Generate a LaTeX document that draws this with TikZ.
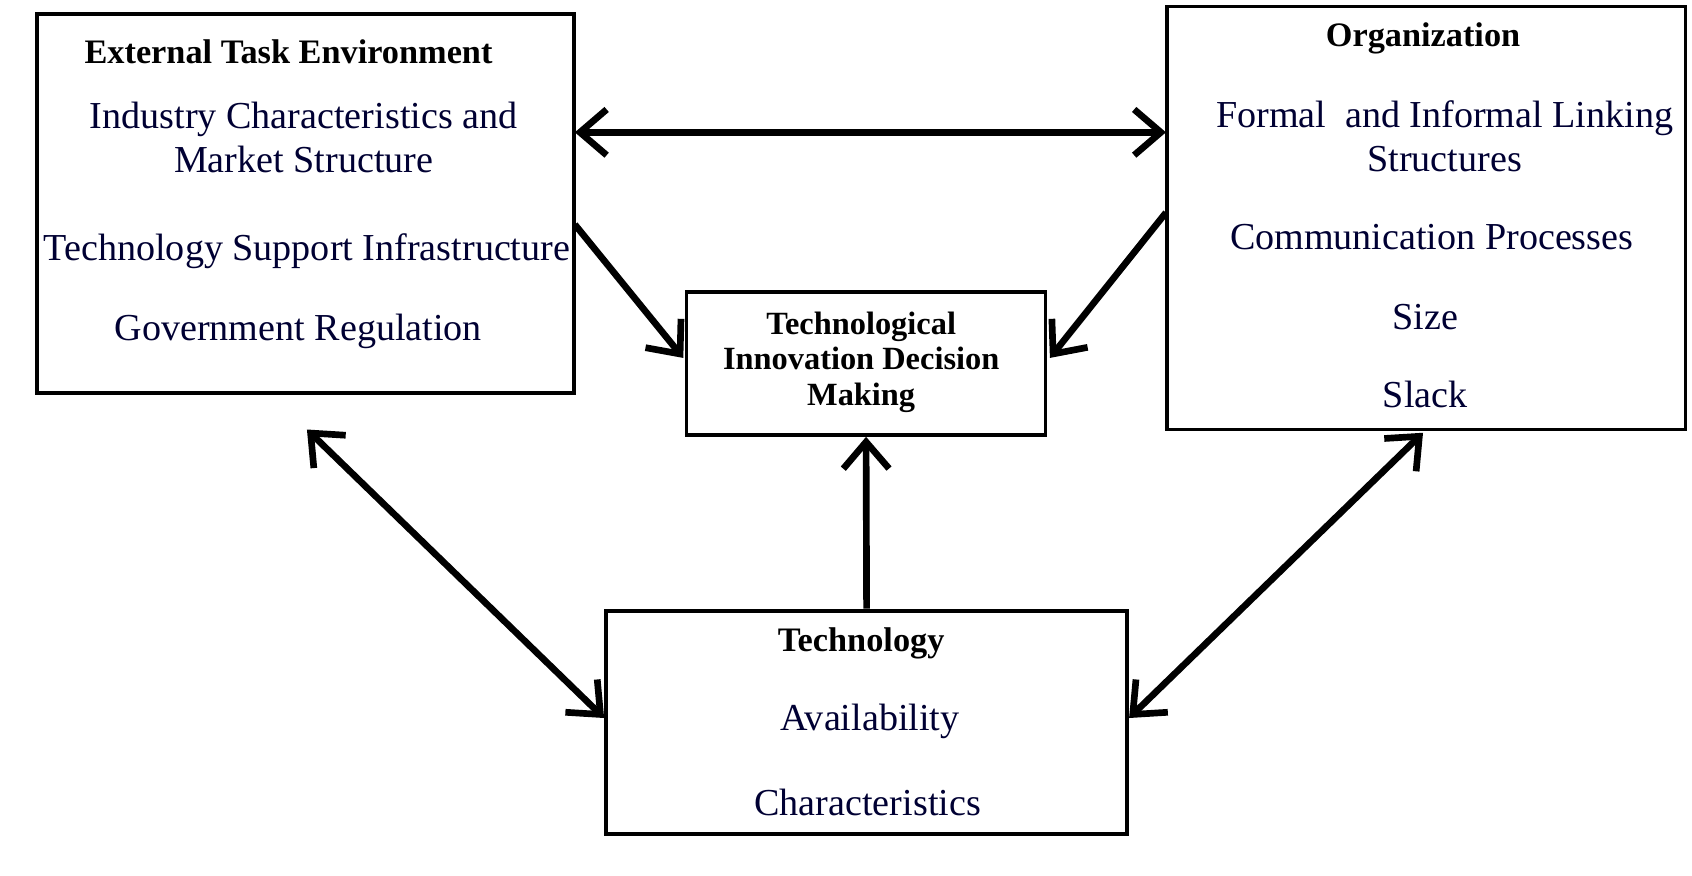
\documentclass[tikz,border=0pt]{standalone}
\usepackage{fontspec}
\setmainfont{Liberation Serif}
\usetikzlibrary{arrows.meta}
\begin{document}
\begin{tikzpicture}[x=0.02cm,y=-0.02cm,
  box/.style={draw,line width=2pt},
  txt/.style={font=\fontsize{20}{23}\selectfont,align=center,text=black!80!blue},
  ttl/.style={font=\fontsize{18}{20}\selectfont\bfseries,align=center},
  arr/.style={line width=3.5pt,-{Straight Barb[length=14pt,width=24pt,line width=3.5pt]}},
  darr/.style={line width=3.5pt,{Straight Barb[length=14pt,width=24pt,line width=3.5pt]}-{Straight Barb[length=14pt,width=24pt,line width=3.5pt]}}]
\useasboundingbox (0,0) rectangle (1560,807);
\fill[white] (0,0) rectangle (1560,807);
\node[box,minimum width=495*0.02cm,minimum height=349*0.02cm] (ext) at (281.5,187.5) {};
\node[box,minimum width=478*0.02cm,minimum height=390*0.02cm] (org) at (1315,201) {};
\node[box,minimum width=331*0.02cm,minimum height=132*0.02cm] (tid) at (798.5,335) {};
\node[box,minimum width=480*0.02cm,minimum height=206*0.02cm] (tec) at (799,666) {};
\node[ttl] (t1) at (266,48) {External Task Environment};
\node[txt] (e1) at (280,127) {Industry Characteristics and\\Market Structure};
\node[txt] (e2) at (283,232) {Technology Support Infrastructure};
\node[txt] (e3) at (275,306) {Government Regulation};
\node[ttl] (t2) at (1312,35) {Organization};
\node[txt] (o1) at (1332,126) {Formal\ \ and Informal Linking\\Structures};
\node[txt] (o2) at (1320,219) {Communication Processes};
\node[txt] (o3) at (1314,292) {Size};
\node[txt] (o4) at (1314,364) {Slack};
\node[ttl,font=\fontsize{17}{18.5}\selectfont\bfseries] (t3) at (794,334) {Technological\\Innovation Decision\\Making};
\node[ttl] (t4) at (794,593) {Technology};
\node[txt] (b1) at (802,665) {Availability};
\node[txt] (b2) at (800,740) {Characteristics};
\coordinate (h1) at (530,122); \coordinate (h2) at (1075,122);
\draw[darr] (h1) -- (h2);
\coordinate (l1) at (530,207); \coordinate (l2) at (630,330);
\draw[arr] (l1) -- (l2);
\coordinate (r1) at (1075,196); \coordinate (r2) at (968,330);
\draw[arr] (r1) -- (r2);
\draw[arr] (tec.north) -- (tid.south);
\coordinate (a1) at (283,396); \coordinate (a2) at (557,662);
\draw[darr] (a1) -- (a2);
\coordinate (c1) at (1312,399); \coordinate (c2) at (1041,662);
\draw[darr] (c1) -- (c2);
\end{tikzpicture}
\end{document}
